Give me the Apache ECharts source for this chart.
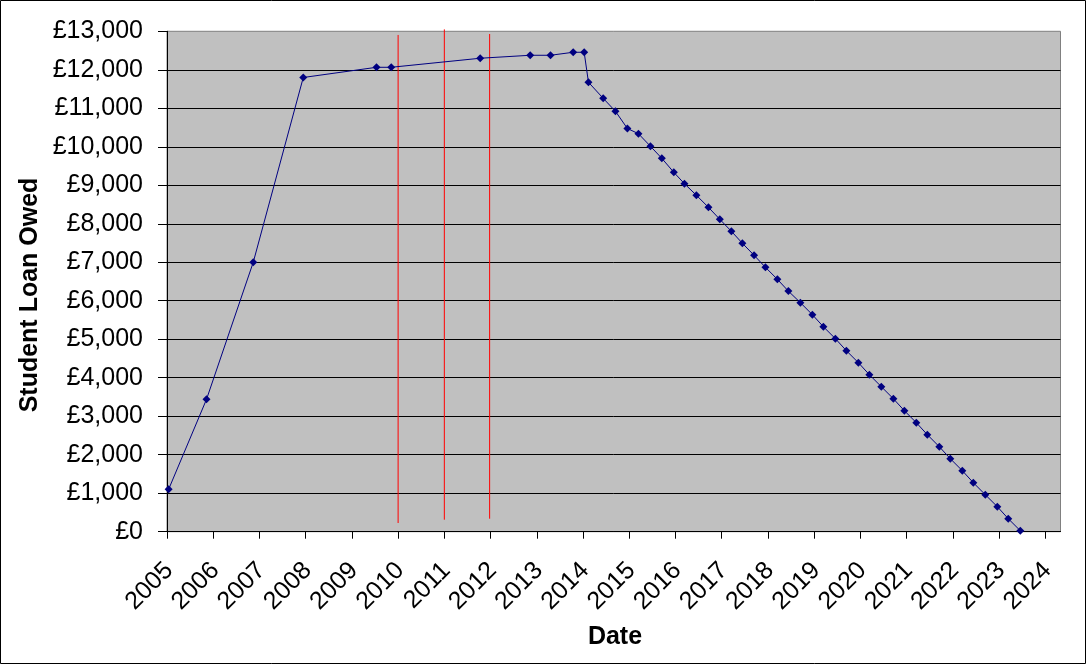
<!DOCTYPE html>
<html>
<head>
<meta charset="utf-8">
<script src="https://cdn.jsdelivr.net/npm/echarts@6/dist/echarts.min.js"></script>
<style>
html,body{margin:0;padding:0;background:#fff;}
#chart{width:1087px;height:665px;}
</style>
</head>
<body>
<div id="chart"></div>
<script>
// Dates as decimal years, balance owed in pounds
const dates = [2005.035, 2005.855, 2006.866, 2007.948, 2009.533, 2009.851, 2011.776, 2012.857, 2013.296, 2013.787,
  2014.025, 2014.118, 2014.436, 2014.702, 2014.960, 2015.199, 2015.459, 2015.705, 2015.964, 2016.194,
  2016.453, 2016.713, 2016.959, 2017.210, 2017.448, 2017.701, 2017.946, 2018.205, 2018.443, 2018.703,
  2018.962, 2019.200, 2019.460, 2019.697, 2019.957, 2020.195, 2020.454, 2020.714, 2020.952, 2021.211,
  2021.449, 2021.708, 2021.946, 2022.206, 2022.444, 2022.703, 2022.963, 2023.200, 2023.460];
const owed = [1100, 3440, 7000, 11800, 12065, 12065, 12300, 12377, 12377, 12455,
  12455, 11676, 11260, 10922, 10475, 10340, 10013, 9700, 9337, 9041,
  8740, 8428, 8116, 7805, 7493, 7181, 6869, 6557, 6250, 5950,
  5638, 5326, 5014, 4703, 4391, 4079, 3767, 3455, 3144, 2832,
  2520, 2208, 1897, 1585, 1273, 961, 650, 338, 26];
// Vertical marker lines (date, top value, bottom value)
const markerDates = [2010.0, 2011.0, 2011.98];
const markerTops = [12905, 13050, 12930];
const markerBottoms = [226, 312, 338];
// Axis ticks
const yearTicks = [2005, 2006, 2007, 2008, 2009, 2010, 2011, 2012, 2013, 2014,
  2015, 2016, 2017, 2018, 2019, 2020, 2021, 2022, 2023, 2024];
const xMin = 2005, xMax = 2024.33;
const yMin = 0, yMax = 13000, yStep = 1000;

const chart = echarts.init(document.getElementById('chart'));
const FONT = '"Liberation Sans", Arial, sans-serif';

const markerSeries = markerDates.map((d, i) => ({
  type: 'line',
  data: [[d, markerTops[i]], [d, markerBottoms[i]]],
  symbol: 'none',
  clip: false,
  lineStyle: { color: '#FF0000', width: 1 },
  z: 3,
  silent: true
}));

chart.setOption({
  animation: false,
  backgroundColor: '#ffffff',
  grid: {
    left: 167, top: 31.3, right: 26.5, bottom: 133.3,
    show: true, backgroundColor: '#C0C0C0', borderColor: '#808080', borderWidth: 1
  },
  xAxis: {
    type: 'value', min: xMin, max: xMax,
    axisLine: { show: true, onZero: false, lineStyle: { color: '#000', width: 1 } },
    axisTick: { show: true, length: 7, customValues: yearTicks, lineStyle: { color: '#000' } },
    axisLabel: {
      customValues: yearTicks, rotate: 45, margin: 37, padding: [0, -3, 0, 0],
      fontFamily: FONT, fontSize: 25, color: '#000',
      formatter: v => String(Math.round(v))
    },
    splitLine: { show: false }
  },
  yAxis: {
    type: 'value', min: yMin, max: yMax, interval: yStep,
    axisLine: { show: true, lineStyle: { color: '#000', width: 1 } },
    axisTick: { show: true, length: 9, lineStyle: { color: '#000' } },
    axisLabel: {
      margin: 24, fontFamily: FONT, fontSize: 25, color: '#000',
      formatter: v => '£' + v.toLocaleString('en-GB')
    },
    splitLine: { show: true, showMaxLine: false, lineStyle: { color: '#000', width: 1 } }
  },
  graphic: [
    { type: 'rect', shape: { x: 0.5, y: 0.5, width: 1085, height: 663 },
      style: { fill: 'none', stroke: '#000', lineWidth: 1 }, z: 100, silent: true },
    { type: 'text', x: 30, y: 295, rotation: Math.PI / 2,
      style: { text: 'Student Loan Owed', font: 'bold 25px ' + FONT, fill: '#000',
        textAlign: 'center', textVerticalAlign: 'middle' } },
    { type: 'text', x: 615, y: 637,
      style: { text: 'Date', font: 'bold 25px ' + FONT, fill: '#000',
        textAlign: 'center', textVerticalAlign: 'middle' } }
  ],
  series: markerSeries.concat([{
    type: 'line',
    data: dates.map((d, i) => [d, owed[i]]),
    symbol: 'diamond', symbolSize: 8,
    itemStyle: { color: '#000080' },
    lineStyle: { color: '#000080', width: 1 },
    z: 5
  }])
});
</script>
</body>
</html>
